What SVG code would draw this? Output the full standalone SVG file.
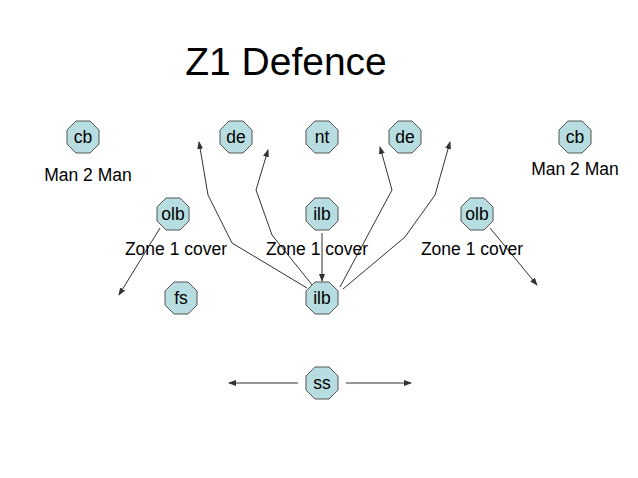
<svg xmlns="http://www.w3.org/2000/svg" width="638" height="478" viewBox="0 0 638 478">
<style>
.n{fill:#b7dde0;stroke:#555;stroke-width:1}
.t{font-family:"Liberation Sans",Arial,sans-serif;font-size:17.5px;fill:#000}
.c{fill:none;stroke:#333;stroke-width:1}
</style>
<defs>
<marker id="a" markerWidth="8" markerHeight="8" refX="7" refY="4" orient="auto" markerUnits="userSpaceOnUse"><path d="M0,1 L8,4 L0,7z" fill="#333"/></marker>
<polygon id="o" points="-7,-16 7,-16 16,-7 16,7 7,16 -7,16 -16,7 -16,-7"/>
</defs>
<rect width="638" height="478" fill="#fff"/>
<text x="286" y="75" text-anchor="middle" style="font-family:'Liberation Sans',Arial,sans-serif;font-size:39px">Z1 Defence</text>
<g id="connectors">
<polyline class="c" marker-end="url(#a)" points="307,288 232,243 208,195 199,142"/>
<polyline class="c" marker-end="url(#a)" points="313,286 272,235 256,190 268,150"/>
<polyline class="c" marker-end="url(#a)" points="340,287 392,190 380,147"/>
<polyline class="c" marker-end="url(#a)" points="343,289 405,237 435,195 450,142"/>
<line class="c" marker-end="url(#a)" x1="322" y1="233" x2="322" y2="281"/>
<line class="c" marker-end="url(#a)" x1="160" y1="228" x2="119" y2="295"/>
<line class="c" marker-end="url(#a)" x1="490" y1="228" x2="537" y2="285"/>
<line class="c" marker-end="url(#a)" x1="298" y1="383" x2="229" y2="383"/>
<line class="c" marker-end="url(#a)" x1="346" y1="383" x2="411" y2="383"/>
</g>
<g id="cb1"><use href="#o" class="n" x="83" y="137"/><text class="t" x="83" y="143" text-anchor="middle">cb</text></g>
<g id="de1"><use href="#o" class="n" x="236" y="137"/><text class="t" x="236" y="143" text-anchor="middle">de</text></g>
<g id="nt"><use href="#o" class="n" x="322" y="137"/><text class="t" x="322" y="143" text-anchor="middle">nt</text></g>
<g id="de2"><use href="#o" class="n" x="405" y="137"/><text class="t" x="405" y="143" text-anchor="middle">de</text></g>
<g id="cb2"><use href="#o" class="n" x="575" y="137"/><text class="t" x="575" y="143" text-anchor="middle">cb</text></g>
<g id="olb1"><use href="#o" class="n" x="173" y="214"/><text class="t" x="173" y="220" text-anchor="middle">olb</text></g>
<g id="ilb1"><use href="#o" class="n" x="322" y="214"/><text class="t" x="322" y="220" text-anchor="middle">ilb</text></g>
<g id="olb2"><use href="#o" class="n" x="477" y="214"/><text class="t" x="477" y="220" text-anchor="middle">olb</text></g>
<g id="fs"><use href="#o" class="n" x="181" y="298"/><text class="t" x="181" y="304" text-anchor="middle">fs</text></g>
<g id="ilb2"><use href="#o" class="n" x="322" y="298"/><text class="t" x="322" y="304" text-anchor="middle">ilb</text></g>
<g id="ss"><use href="#o" class="n" x="322" y="383"/><text class="t" x="322" y="389" text-anchor="middle">ss</text></g>
<g id="labels">
<text class="t" x="88" y="181" text-anchor="middle">Man 2 Man</text>
<text class="t" x="575" y="175" text-anchor="middle">Man 2 Man</text>
<text class="t" x="176" y="255" text-anchor="middle">Zone 1 cover</text>
<text class="t" x="317" y="255" text-anchor="middle">Zone 1 cover</text>
<text class="t" x="472" y="255" text-anchor="middle">Zone 1 cover</text>
</g>
</svg>
